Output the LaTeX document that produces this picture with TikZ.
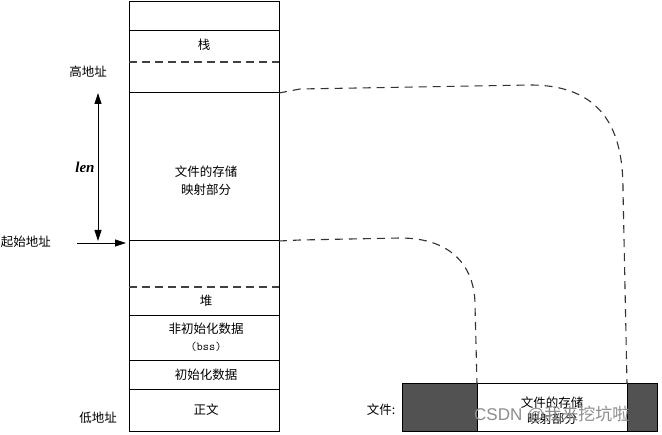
\documentclass[tikz,border=0pt]{standalone}
\usepackage{fontspec}
\newfontfamily\cjk{Noto Sans CJK SC}
\newfontfamily\wm{Liberation Sans}
\newfontfamily\lenfont{Liberation Serif}
\usetikzlibrary{arrows.meta}
\begin{document}
\begin{tikzpicture}[x=1pt,y=-1pt,
  lab/.style={font=\cjk\fontsize{12.5}{14}\selectfont, inner sep=0pt},
  cell/.style={draw, line width=1pt},
  dashline/.style={line width=1.1pt, draw=black!75, dash pattern=on 8pt off 5pt},
  conn/.style={line width=1.1pt, draw=black!80, dash pattern=on 8pt off 6pt},
  tip/.style={Triangle[length=11pt,width=7pt]},
  arr/.style={line width=0.9pt, -{Triangle[length=11pt,width=7pt]}}]
\useasboundingbox (0,0) rectangle (662,435);
% memory column
\draw[cell] (129,2) rectangle (279,432);
\draw[cell] (129,31) -- (279,31);
\draw[dashline] (129,62) -- (279,62);
\draw[cell] (129,93) -- (279,93);
\draw[cell] (129,241) -- (279,241);
\draw[dashline] (129,287) -- (279,287);
\draw[cell] (129,316) -- (279,316);
\draw[cell] (129,361) -- (279,361);
\draw[cell] (129,390) -- (279,390);
\coordinate (mtop) at (279,93);
\coordinate (mstart) at (279,241);
% labels in column
\node[lab] (stack) at (204,45) {栈};
\node[lab,align=center] (map) at (206,181) {文件的存储\\[4pt]映射部分};
\node[lab] (heap) at (206,301) {堆};
\node[lab,align=center] (bss) at (206,337) {非初始化数据\\[3pt]{\ttfamily\fontsize{12}{13}\selectfont (bss)}};
\node[lab] (init) at (206,375) {初始化数据};
\node[lab] (text) at (206,410) {正文};
% left labels
\node[lab] (hi) at (88,72) {高地址};
\node[lab] (lo) at (98,418) {低地址};
\node[lab] (st) at (26,242) {起始地址};
\node[font=\lenfont\bfseries\itshape\fontsize{15}{16}\selectfont, inner sep=0pt] (len) at (85,167) {len};
% arrows
\coordinate (lenA) at (98,93);
\coordinate (lenB) at (98,241);
\draw[line width=0.9pt, {Triangle[length=11pt,width=7pt]}-{Triangle[length=11pt,width=7pt]}] (lenB) -- (lenA);
\coordinate (stA) at (77,243);
\coordinate (stB) at (126,243);
\draw[arr] (stA) -- (stB);
% file bar
\node[lab] (filelab) at (381,410) {文件:};
\fill[black!68] (402,384) rectangle (477,432);
\fill[black!68] (627,383) rectangle (657,432);
\draw[line width=1pt] (402,384) rectangle (657,432);
\draw[line width=1pt] (477,384) -- (477,432);
\draw[line width=1pt] (627,384) -- (627,432);
\coordinate (fA) at (477,384);
\coordinate (fB) at (627,384);
\node[lab,align=center] (fmap) at (552,411) {文件的存储\\[2pt]映射部分};
% dashed connectors
\draw[conn] (mtop) -- (300,89) -- (530,85) .. controls (610,85) and (623,140) .. (623,190) -- (fB);
\draw[conn] (mstart) -- (300,240) -- (400,238) .. controls (455,238) and (475,270) .. (475,305) -- (fA);
% watermark
\node[font=\wm\fontsize{17}{18}\selectfont, text=black!45, inner sep=0pt, anchor=west] (wmk) at (474,414) {CSDN @\cjk 我来挖坑啦};
\end{tikzpicture}
\end{document}
